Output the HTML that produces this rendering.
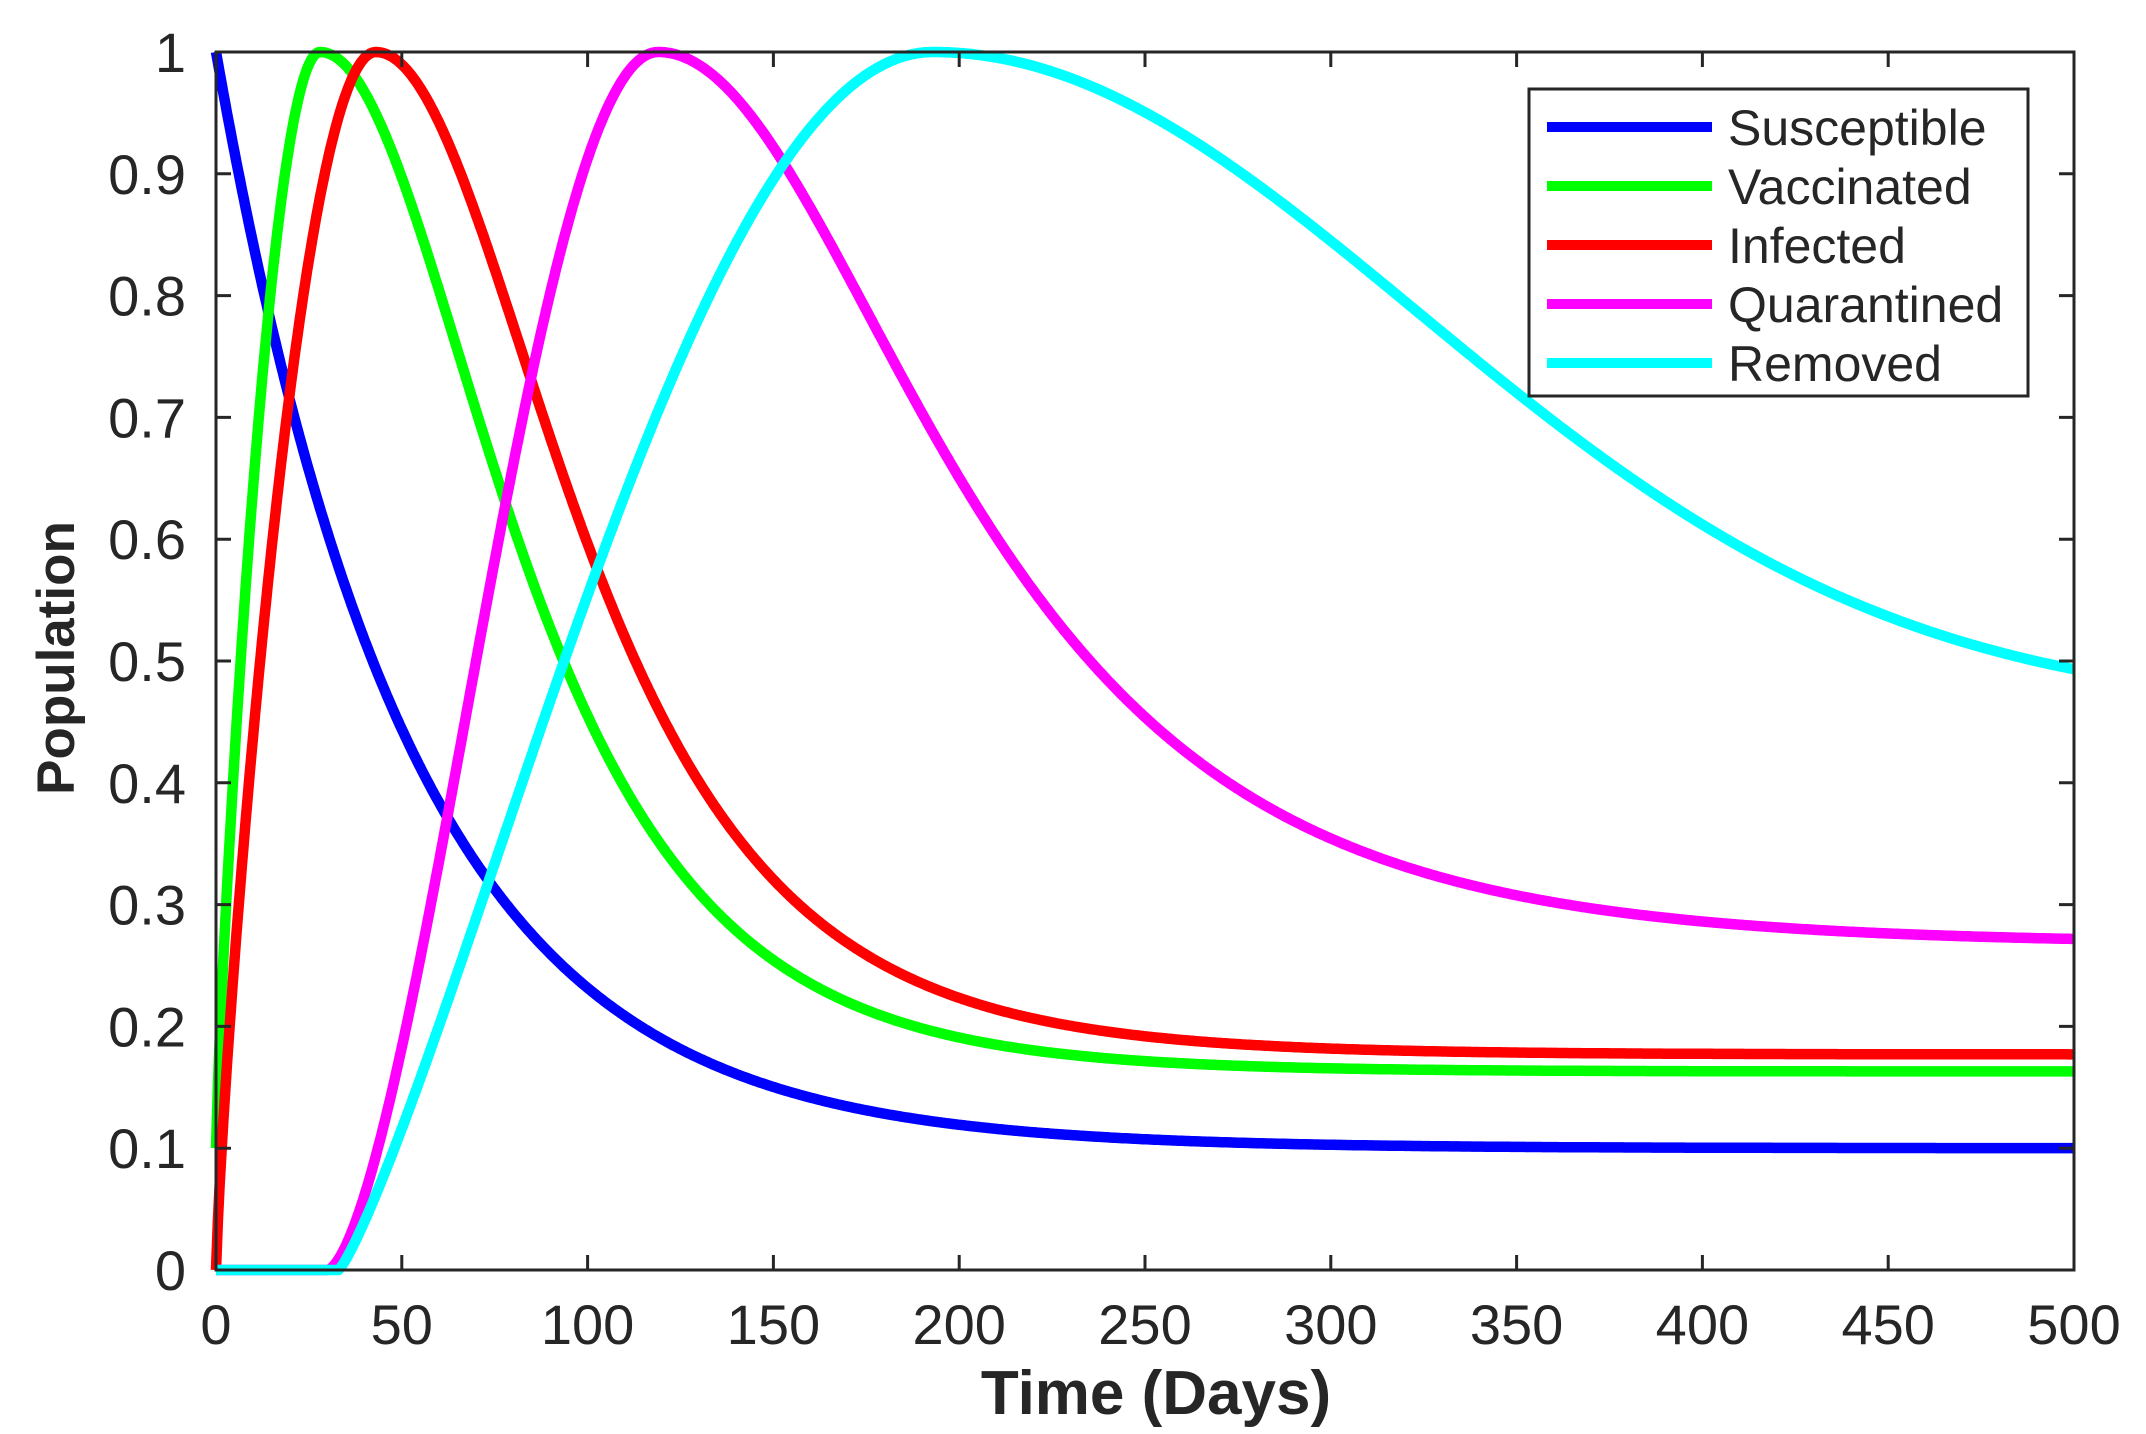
<!DOCTYPE html>
<html><head><meta charset="utf-8"><style>
html,body{margin:0;padding:0;background:#fff}
svg{display:block}
text{font-family:"Liberation Sans",Arial,sans-serif;fill:#262626}
</style></head><body>
<svg id="s" width="2146" height="1434" xmlns="http://www.w3.org/2000/svg">
<g id="curves" fill="none" stroke-width="10.5" stroke-linejoin="round"></g>
<g id="axes" stroke="#262626" stroke-width="3" fill="none"></g>
<g id="labels" font-size="56"></g>
<rect x="1529" y="89" width="499" height="307" fill="#fff" stroke="#262626" stroke-width="3"/>
<g stroke-width="10">
<line x1="1547" y1="127" x2="1712" y2="127" stroke="#0000ff"/>
<line x1="1547" y1="186" x2="1712" y2="186" stroke="#00ff00"/>
<line x1="1547" y1="245" x2="1712" y2="245" stroke="#ff0000"/>
<line x1="1547" y1="304" x2="1712" y2="304" stroke="#ff00ff"/>
<line x1="1547" y1="363" x2="1712" y2="363" stroke="#00ffff"/>
</g>
<g font-size="50">
<text x="1728" y="145">Susceptible</text>
<text x="1728" y="204">Vaccinated</text>
<text x="1728" y="263">Infected</text>
<text x="1728" y="322">Quarantined</text>
<text x="1728" y="381">Removed</text>
</g>
<text x="1156" y="1414" font-size="62" font-weight="bold" text-anchor="middle">Time (Days)</text>
<text transform="translate(74,658) rotate(-90)" font-size="53" font-weight="bold" text-anchor="middle">Population</text>
</svg>
<script>
var L=216,R=2074,T=52,B=1270;
function X(t){return L+t/500*(R-L)}
function Y(v){return B-v*(B-T)}
function sech(x){return 1/Math.cosh(x)}
function S(t){return 0.1+0.9*Math.exp(-t/52)}
function V(t){if(t<28)return 0.1+0.9*Math.pow(Math.sin(Math.PI/2*t/28),0.8);return 0.163+0.837*sech((t-28)/42)}
function I(t){if(t<43)return Math.pow(Math.sin(Math.PI/2*t/43),0.8);return 0.177+0.823*sech((t-43)/44)}
function Q(t){if(t<30)return 0;if(t<119){var p=(t-30)/89;return Math.pow(0.5-0.5*Math.cos(Math.PI*p),0.8)}return 0.268+0.732*sech((t-119)/64)}
function Rm(t){if(t<33)return 0;if(t<193){var p=(t-33)/160;return Math.pow(0.5-0.5*Math.cos(Math.PI*p),0.6)}return 0.46+0.54*Math.exp(-Math.pow(t-193,2)/33800)}
var fs=[[S,'#0000ff'],[V,'#00ff00'],[I,'#ff0000'],[Q,'#ff00ff'],[Rm,'#00ffff']];
var g=document.getElementById('curves'),ns='http://www.w3.org/2000/svg';
fs.forEach(function(f){var d='';for(var t=0;t<=500;t+=0.5){d+=(t?'L':'M')+X(t).toFixed(1)+','+Y(f[0](t)).toFixed(1)}
var p=document.createElementNS(ns,'path');p.setAttribute('d',d);p.setAttribute('stroke',f[1]);g.appendChild(p)});
var a=document.getElementById('axes'),d='M'+L+','+T+'H'+R+'V'+B+'H'+L+'Z';
for(var i=0;i<=10;i++){var y=Y(i/10);d+='M'+L+','+y+'h15M'+R+','+y+'h-15'}
for(var t=0;t<=500;t+=50){var x=X(t);d+='M'+x+','+B+'v-15M'+x+','+T+'v15'}
var p=document.createElementNS(ns,'path');p.setAttribute('d',d);a.appendChild(p);
var lb=document.getElementById('labels');
function tx(x,y,s,an){var e=document.createElementNS(ns,'text');e.setAttribute('x',x);e.setAttribute('y',y);e.setAttribute('text-anchor',an);e.textContent=s;lb.appendChild(e)}
for(var i=0;i<=10;i++){var v=i/10;tx(186,Y(v)+20,i==10?'1':(i==0?'0':v.toFixed(1)),'end')}
for(var t=0;t<=500;t+=50)tx(X(t),1344,String(t),'middle');
</script>
</body></html>
